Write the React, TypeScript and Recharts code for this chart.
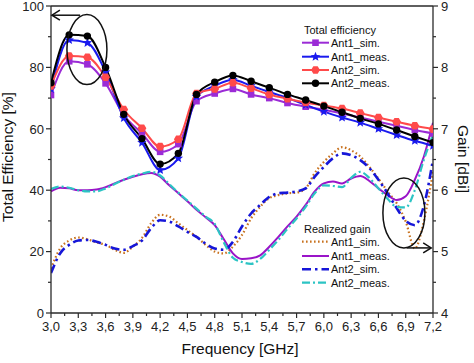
import React from "react";
import {
  ComposedChart,
  Line,
  XAxis,
  YAxis,
  ReferenceLine,
  ReferenceDot,
} from "recharts";

// total efficiency, markers every 0.2 GHz
const effFreq = [3.0, 3.2, 3.4, 3.6, 3.8, 4.0, 4.2, 4.4, 4.6, 4.8, 5.0, 5.2, 5.4, 5.6, 5.8, 6.0, 6.2, 6.4, 6.6, 6.8, 7.0, 7.2];
const ant1SimEff = [71, 82, 81, 74.8, 64.5, 58.5, 52.5, 55, 69, 71.5, 73, 71.2, 70, 68.4, 67.2, 66.2, 65, 63.7, 62.3, 61, 59.6, 58.5];
const ant1MeasEff = [73, 88.9, 88, 78.5, 63.5, 55.5, 46.6, 50.4, 70.5, 74, 76, 74, 72, 70, 67.8, 65.6, 63.7, 62, 60, 58, 56.1, 54.5];
const ant2SimEff = [74, 83.7, 83.3, 76.8, 66.3, 60.2, 54.2, 56.6, 71.5, 73, 75, 73.2, 71.2, 69.8, 68.6, 67.6, 66.6, 65.1, 63.7, 62.3, 61, 59.9];
const ant2MeasEff = [75, 90.6, 90.2, 80, 64.7, 56.8, 48.5, 52, 71.2, 75.2, 77.4, 75.5, 73.4, 71.2, 69.4, 67.4, 65.4, 63.4, 61.6, 59.6, 57.5, 55.5];

// realized gain [dBi], every 0.1 GHz
const gainFreq = [3.0, 3.1, 3.2, 3.3, 3.4, 3.5, 3.6, 3.7, 3.8, 3.9, 4.0, 4.1, 4.2, 4.3, 4.4, 4.5, 4.6, 4.7, 4.8, 4.9, 5.0, 5.1, 5.2, 5.3, 5.4, 5.5, 5.6, 5.7, 5.8, 5.9, 6.0, 6.1, 6.2, 6.3, 6.4, 6.5, 6.6, 6.7, 6.8, 6.9, 7.0, 7.1, 7.2];
const ant1SimGain = [4.72, 5.05, 5.18, 5.23, 5.2, 5.15, 5.11, 5.03, 4.98, 5.08, 5.22, 5.46, 5.6, 5.57, 5.46, 5.35, 5.24, 5.11, 5.0, 4.97, 5.08, 5.27, 5.54, 5.73, 5.87, 5.92, 5.95, 5.96, 6.03, 6.28, 6.46, 6.6, 6.7, 6.65, 6.55, 6.38, 6.19, 5.98, 5.79, 5.49, 5.05, 5.5, 6.3];
const ant1MeasGain = [5.98, 6.04, 6.03, 6.0, 6.0, 6.01, 6.05, 6.11, 6.17, 6.22, 6.26, 6.28, 6.22, 6.08, 5.95, 5.82, 5.68, 5.56, 5.43, 5.2, 4.97, 4.88, 4.89, 4.94, 5.08, 5.24, 5.41, 5.57, 5.76, 5.98, 6.11, 6.14, 6.11, 6.19, 6.23, 6.15, 6.03, 5.92, 5.84, 5.9, 6.17, 6.55, 7.1];
const ant2SimGain = [4.65, 4.97, 5.11, 5.18, 5.19, 5.16, 5.11, 5.05, 5.03, 5.09, 5.18, 5.38, 5.51, 5.49, 5.41, 5.32, 5.24, 5.13, 5.05, 5.03, 5.16, 5.41, 5.62, 5.76, 5.89, 5.95, 5.96, 5.98, 6.03, 6.22, 6.38, 6.52, 6.6, 6.57, 6.49, 6.36, 6.17, 5.95, 5.71, 5.5, 5.43, 5.75, 6.5];
const ant2MeasGain = [6.02, 6.06, 6.04, 6.0, 5.98, 5.98, 6.03, 6.1, 6.17, 6.23, 6.27, 6.3, 6.24, 6.1, 5.96, 5.83, 5.7, 5.57, 5.45, 5.15, 4.9, 4.83, 4.8, 4.88, 5.03, 5.19, 5.37, 5.54, 5.73, 5.95, 6.08, 6.07, 6.05, 6.2, 6.3, 6.2, 6.03, 5.86, 5.73, 5.72, 6.0, 6.5, 6.9];

const xMajor = [3.0, 3.3, 3.6, 3.9, 4.2, 4.5, 4.8, 5.1, 5.4, 5.7, 6.0, 6.3, 6.6, 6.9, 7.2];
const effTicks = [0, 10, 20, 30, 40, 50, 60, 70, 80, 90, 100];
const gainTicks = [4, 4.5, 5, 5.5, 6, 6.5, 7, 7.5, 8, 8.5, 9];

const effData = effFreq.map((f, i) => ({
  f,
  a1s: ant1SimEff[i],
  a1m: ant1MeasEff[i],
  a2s: ant2SimEff[i],
  a2m: ant2MeasEff[i],
}));
const gainData = gainFreq.map((f, i) => ({
  f,
  a1s: ant1SimGain[i],
  a1m: ant1MeasGain[i],
  a2s: ant2SimGain[i],
  a2m: ant2MeasGain[i],
}));
const xTicks = xMajor.flatMap((v, i) =>
  i < xMajor.length - 1 ? [v, +(v + 0.15).toFixed(2)] : [v]
);

const FONT = "'Liberation Sans', Arial, sans-serif";
const AXIS = "#2a2a2a";
const C = {
  purple: "#9b2bd6",
  blue: "#1a1aee",
  red: "#ff4a4a",
  black: "#000000",
  orange: "#c8721f",
  purpleG: "#9a14c8",
  blueG: "#1616d8",
  cyan: "#2cc4c4",
};

const isMajor = (v: number, list: number[]) => list.some((m) => Math.abs(m - v) < 1e-6);

function XTick(props: any) {
  const { x, y, payload } = props;
  const major = isMajor(payload.value, xMajor);
  return (
    <g>
      <line x1={x} x2={x} y1={y} y2={y + (major ? 5 : 3)} stroke={AXIS} strokeWidth={1.2} />
      {major && (
        <text x={x} y={y + 18} textAnchor="middle" fontSize={13} fill="#222" fontFamily={FONT}>
          {payload.value.toFixed(1).replace(".", ",")}
        </text>
      )}
    </g>
  );
}

function LeftTick(props: any) {
  const { x, y, payload } = props;
  const major = payload.value % 20 === 0;
  return (
    <g>
      <line x1={x - (major ? 5 : 3)} x2={x} y1={y} y2={y} stroke={AXIS} strokeWidth={1.2} />
      {major && (
        <text x={x - 7} y={y + 4.7} textAnchor="end" fontSize={13} fill="#222" fontFamily={FONT}>
          {payload.value}
        </text>
      )}
    </g>
  );
}

function RightTick(props: any) {
  const { x, y, payload } = props;
  const major = Number.isInteger(payload.value);
  return (
    <g>
      <line x1={x} x2={x + (major ? 5 : 3)} y1={y} y2={y} stroke={AXIS} strokeWidth={1.2} />
      {major && (
        <text x={x + 8} y={y + 4.7} textAnchor="start" fontSize={13} fill="#222" fontFamily={FONT}>
          {payload.value}
        </text>
      )}
    </g>
  );
}

function starPath(cx: number, cy: number, R: number, r: number) {
  let d = "";
  for (let k = 0; k < 10; k++) {
    const a = -Math.PI / 2 + (k * Math.PI) / 5;
    const rad = k % 2 === 0 ? R : r;
    d += (k === 0 ? "M" : "L") + (cx + rad * Math.cos(a)).toFixed(2) + " " + (cy + rad * Math.sin(a)).toFixed(2);
  }
  return d + "Z";
}

function hexPath(cx: number, cy: number, R: number) {
  let d = "";
  for (let k = 0; k < 6; k++) {
    const a = (k * Math.PI) / 3;
    d += (k === 0 ? "M" : "L") + (cx + R * Math.cos(a)).toFixed(2) + " " + (cy + R * Math.sin(a)).toFixed(2);
  }
  return d + "Z";
}

const marker = {
  square: (cx: number, cy: number, key?: string) => (
    <rect key={key} x={cx - 3.3} y={cy - 3.3} width={6.6} height={6.6} fill={C.purple} />
  ),
  star: (cx: number, cy: number, key?: string) => (
    <path key={key} d={starPath(cx, cy, 5, 2.2)} fill={C.blue} />
  ),
  hex: (cx: number, cy: number, key?: string) => (
    <path key={key} d={hexPath(cx, cy, 4.4)} fill={C.red} />
  ),
  circle: (cx: number, cy: number, key?: string) => (
    <circle key={key} cx={cx} cy={cy} r={3.7} fill={C.black} />
  ),
};

const dotOf = (m: (cx: number, cy: number, key?: string) => React.ReactElement, tag: string) =>
  (p: any) => m(p.cx, p.cy, `${tag}-${p.index}`);

const effSeries = [
  { key: "a1s", name: "Ant1_sim.", color: C.purple, m: marker.square },
  { key: "a1m", name: "Ant1_meas.", color: C.blue, m: marker.star },
  { key: "a2s", name: "Ant2_sim.", color: C.red, m: marker.hex },
  { key: "a2m", name: "Ant2_meas.", color: C.black, m: marker.circle },
];

const gainSeries = [
  { key: "a1s", name: "Ant1_sim.", color: C.orange, dash: "1.6 2.4", width: 2.2 },
  { key: "a1m", name: "Ant1_meas.", color: C.purpleG, dash: undefined, width: 2 },
  { key: "a2s", name: "Ant2_sim.", color: C.blueG, dash: "9 4 2.5 4", width: 2.6 },
  { key: "a2m", name: "Ant2_meas.", color: C.cyan, dash: "8 3 2 3", width: 2.2 },
];

function Legends() {
  const x0 = 302;
  const x1 = 329;
  const tx = 331;
  const effRows = [42.7, 56.7, 70, 83.3];
  const gainRows = [241.7, 256, 269.3, 282.7];
  return (
    <svg
      width={474}
      height={363}
      style={{ position: "absolute", left: 0, top: 0, pointerEvents: "none" }}
      fontFamily={FONT}
    >
      <text x={304} y={34} fontSize={11} fill="#111">Total efficiency</text>
      {effSeries.map((s, i) => (
        <g key={s.key}>
          <line x1={x0} x2={x1} y1={effRows[i]} y2={effRows[i]} stroke={s.color} strokeWidth={2} />
          {s.m((x0 + x1) / 2, effRows[i])}
          <text x={tx} y={effRows[i] + 4} fontSize={11} fill="#111">{s.name}</text>
        </g>
      ))}
      <text x={304} y={233} fontSize={11} fill="#111">Realized gain</text>
      {gainSeries.map((s, i) => (
        <g key={s.key}>
          <line
            x1={x0}
            x2={x1}
            y1={gainRows[i]}
            y2={gainRows[i]}
            stroke={s.color}
            strokeWidth={s.width}
            strokeDasharray={s.dash}
          />
          <text x={tx} y={gainRows[i] + 4} fontSize={11} fill="#111">{s.name}</text>
        </g>
      ))}
      <text
        x={13}
        y={157}
        transform="rotate(-90 13 157)"
        textAnchor="middle"
        fontSize={15.5}
        fill="#111"
      >
        Total Efficiency [%]
      </text>
      <text
        x={458}
        y={159}
        transform="rotate(90 458 159)"
        textAnchor="middle"
        fontSize={15.5}
        fill="#111"
      >
        Gain [dBi]
      </text>
      <text x={240} y={353.5} textAnchor="middle" fontSize={15.5} fill="#111">
        Frequency [GHz]
      </text>
    </svg>
  );
}

const ellipseShape = (rx: number, ry: number) => (p: any) => (
  <ellipse cx={p.cx} cy={p.cy} rx={rx} ry={ry} fill="none" stroke="#111" strokeWidth={1.5} />
);
const chevron = (dir: 1 | -1) => (p: any) => (
  <path
    d={`M${p.cx - dir * 8} ${p.cy - 5} L${p.cx} ${p.cy} L${p.cx - dir * 8} ${p.cy + 5}`}
    fill="none"
    stroke="#111"
    strokeWidth={1.5}
  />
);

export default function App() {
  return (
    <div
      style={{
        position: "absolute",
        left: 0,
        top: 0,
        width: 474,
        height: 363,
        background: "#fff",
        fontFamily: FONT,
      }}
    >
      <ComposedChart width={474} height={363} margin={{ top: 6, right: 0, bottom: 0, left: 0 }}>
        <XAxis
          dataKey="f"
          type="number"
          domain={[3, 7.2]}
          allowDataOverflow
          ticks={xTicks}
          interval={0}
          height={50}
          tick={XTick}
          tickLine={false}
          tickSize={0}
          tickMargin={0}
          axisLine={{ stroke: AXIS, strokeWidth: 1.3 }}
        />
        <YAxis
          yAxisId="eff"
          domain={[0, 100]}
          ticks={effTicks}
          interval={0}
          width={51}
          tick={LeftTick}
          tickLine={false}
          tickSize={0}
          tickMargin={0}
          axisLine={{ stroke: AXIS, strokeWidth: 1.3 }}
        />
        <YAxis
          yAxisId="gain"
          orientation="right"
          domain={[4, 9]}
          ticks={gainTicks}
          interval={0}
          width={41}
          tick={RightTick}
          tickLine={false}
          tickSize={0}
          tickMargin={0}
          axisLine={{ stroke: AXIS, strokeWidth: 1.3 }}
        />
        <ReferenceLine yAxisId="eff" y={100} stroke={AXIS} strokeWidth={1.3} />

        {gainSeries.map((s) => (
          <Line
            key={"g" + s.key}
            data={gainData}
            dataKey={s.key}
            yAxisId="gain"
            type="monotone"
            stroke={s.color}
            strokeWidth={s.width}
            strokeDasharray={s.dash}
            dot={false}
            activeDot={false}
            isAnimationActive={false}
          />
        ))}
        {effSeries.map((s) => (
          <Line
            key={"e" + s.key}
            data={effData}
            dataKey={s.key}
            yAxisId="eff"
            type="monotone"
            stroke={s.color}
            strokeWidth={2}
            dot={dotOf(s.m, s.key)}
            activeDot={false}
            isAnimationActive={false}
          />
        ))}

        <ReferenceDot yAxisId="eff" x={3.395} y={85.8} r={1} shape={ellipseShape(20, 35)} />
        <ReferenceLine
          yAxisId="eff"
          segment={[{ x: 3.32, y: 97 }, { x: 3.01, y: 97 }]}
          stroke="#111"
          strokeWidth={1.5}
        />
        <ReferenceDot yAxisId="eff" x={3.01} y={97} r={1} shape={chevron(-1)} />

        <ReferenceDot yAxisId="gain" x={6.88} y={5.63} r={1} shape={ellipseShape(21, 35)} />
        <ReferenceLine
          yAxisId="gain"
          segment={[{ x: 6.91, y: 5.06 }, { x: 7.18, y: 5.06 }]}
          stroke="#111"
          strokeWidth={1.5}
        />
        <ReferenceDot yAxisId="gain" x={7.18} y={5.06} r={1} shape={chevron(1)} />
      </ComposedChart>
      <Legends />
    </div>
  );
}
